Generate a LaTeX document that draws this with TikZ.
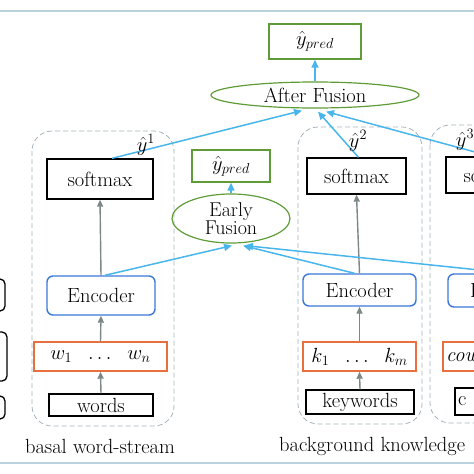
\RequirePackage{fix-cm}
\documentclass[tikz,border=0pt]{standalone}
\usepackage{fontspec}
\usetikzlibrary{shapes.geometric,arrows.meta,calc}
\definecolor{fgreen}{RGB}{95,155,55}
\definecolor{encblue}{RGB}{60,120,215}
\definecolor{embor}{RGB}{232,112,62}
\definecolor{skyb}{RGB}{72,182,236}
\definecolor{garr}{RGB}{125,135,135}
\definecolor{framec}{RGB}{185,210,222}
\definecolor{contc}{RGB}{165,178,188}
\tikzset{
  box/.style={draw=black, line width=1.3pt, inner sep=0pt, rectangle},
  encbox/.style={draw=encblue, line width=1.4pt, rounded corners=6pt, inner sep=0pt, rectangle},
  embbox/.style={draw=embor, line width=1.4pt, inner sep=0pt, rectangle},
  grnbox/.style={draw=fgreen, line width=1.4pt, inner sep=0pt, rectangle},
  fusion/.style={draw=fgreen, line width=1.2pt, ellipse, inner sep=0pt, align=center},
  garrow/.style={draw=garr, line width=1.4pt, -{Triangle[length=7pt,width=6pt]}},
  barrow/.style={draw=skyb, line width=1.5pt, -{Triangle[length=8pt,width=7pt]}},
  cont/.style={draw=contc, line width=0.8pt, dash pattern=on 5pt off 3pt, rounded corners=20pt},
  framel/.style={draw=framec, line width=1.2pt},
  lbl/.style={inner sep=0pt}
}
\begin{document}
\begin{tikzpicture}[x=1pt,y=-1pt,font=\fontsize{20.5}{22}\selectfont]
\useasboundingbox (0,0) rectangle (474,474);
\clip (0,0) rectangle (474,474);
% frame lines
\draw[framel] (0,11) -- (474,11);
\draw[framel] (0,463) -- (474,463);
% left partial boxes
\draw[box, rounded corners=5pt] (-30,279) rectangle (5,311);
\draw[box, rounded corners=5pt] (-30,332) rectangle (7,381);
\draw[box, rounded corners=5pt] (-30,396) rectangle (5,419);
% containers
\draw[cont] (32,131) rectangle (174,426);
\draw[cont] (298,127) rectangle (422,424);
\draw[cont] (430,125) rectangle (540,423);
% column 1
\node[box, minimum width=106pt, minimum height=40pt] (s1) at (100,179) {softmax};
\node[encbox, minimum width=108pt, minimum height=39pt] (enc1) at (101,295.5) {Encoder};
\node[embbox, minimum width=133pt, minimum height=29pt] (w1) at (100.5,356.5) {$w_1\ \ \ldots\ \ w_n$};
\node[box, minimum width=104pt, minimum height=22pt] (words) at (101,405) {words};
\node[lbl] (lab1) at (100,446) {basal word-stream};
% column 2
\node[box, minimum width=99pt, minimum height=36pt] (s2) at (356.5,176) {softmax};
\node[encbox, minimum width=113pt, minimum height=32pt] (enc2) at (359.5,290) {Encoder};
\node[embbox, minimum width=113pt, minimum height=29pt] (k1) at (359.5,356.5) {$k_1\ \ \ldots\ \ k_m$};
\node[box, minimum width=108pt, minimum height=24pt] (kw) at (360,402) {keywords};
\node[lbl, anchor=west] (lab2) at (279,446) {background knowledge};
% column 3 (cut off)
\node[box, minimum width=100pt, minimum height=36pt] (s3) at (496,175) {softmax};
\node[encbox, minimum width=112pt, minimum height=33pt] (enc3) at (504,290.5) {Encoder};
\node[embbox, minimum width=110pt, minimum height=29pt] (c3) at (498,356.5) {};
\node[lbl, anchor=west] (cowt) at (446,357) {\textit{cow}};
\node[box, minimum width=100pt, minimum height=27pt] (cb) at (505,401.5) {};
\node[lbl, anchor=west] (ct) at (458,401) {c};
% fusion
\node[grnbox, minimum width=92pt, minimum height=35pt] (ytop) at (315,41.5) {$\hat{y}_{pred}$};
\node[fusion, minimum width=208pt, minimum height=26pt] (after) at (315,95) {After Fusion};
\node[grnbox, minimum width=78pt, minimum height=32pt] (yearly) at (231,166) {$\hat{y}_{pred}$};
\node[fusion, minimum width=118pt, minimum height=49pt, font=\fontsize{20}{18}\selectfont] (early) at (231,218.5) {Early\\Fusion};
% gray arrows
\draw[garrow] (words.north) -- (w1.south);
\draw[garrow] (w1.north) -- (enc1.south);
\draw[garrow] (enc1.north) -- (s1.south);
\draw[garrow] (kw.north) -- (k1.south);
\draw[garrow] (k1.north) -- (enc2.south);
\draw[garrow] (enc2.north) -- (s2.south);
% blue arrows
\draw[barrow] (after.north) -- (ytop.south);
\draw[barrow] (early.north) -- (yearly.south);
\draw[barrow] ($(s1.north)+(12,0)$) -- ($(after.south)+(-13,2)$);
\draw[barrow] ($(s2.north)+(2,0)$) -- ($(after.south)+(3,3)$);
\draw[barrow] ($(s3.north)+(-5,0)$) -- ($(after.south)+(11,3)$);
\draw[barrow] ($(enc1.north)+(4,0)$) -- ($(early.south)+(1,2)$);
\draw[barrow] ($(enc2.north)+(-5,0)$) -- ($(early.south)+(12,2)$);
\draw[barrow] ($(enc3.north)+(7,0)$) -- ($(early.south)+(14,2)$);
% y-hat labels
\node[lbl] (yh1) at (146,145) {$\hat{y}^1$};
\node[lbl] (yh2) at (358,141) {$\hat{y}^2$};
\node[lbl] (yh3) at (465,140) {$\hat{y}^3$};
\end{tikzpicture}
\end{document}
